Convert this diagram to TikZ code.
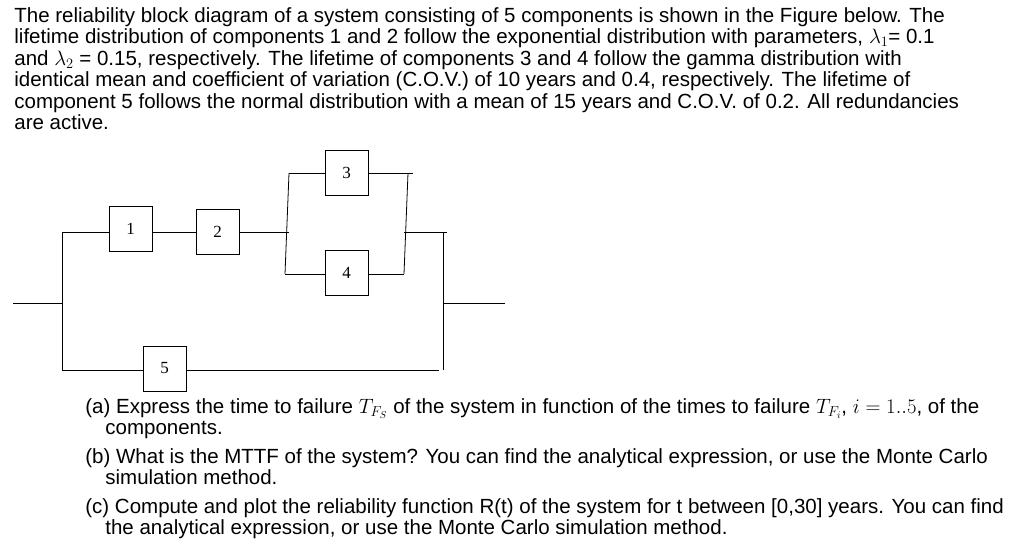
\documentclass[tikz,border=0pt]{standalone}
\usepackage{fontspec}
\setmainfont{Liberation Sans}
\newfontfamily\serifnum{Liberation Serif}
\begin{document}
\begin{tikzpicture}[x=1pt,y=-1pt,line width=0.8pt,
  tl/.style={anchor=base west,inner sep=0pt,font=\fontsize{20.5}{24}\selectfont},
  blk/.style={draw,minimum width=43pt,minimum height=45pt,inner sep=0pt,font=\serifnum\fontsize{17}{19}\selectfont}]
\useasboundingbox (0,0) rectangle (1032,558);
\node[tl] (l1) at (14,22) {The reliability block diagram of a system consisting of 5 components is shown in the Figure below. The};
\node[tl] (l2) at (14,43.5) {lifetime distribution of components 1 and 2 follow the exponential distribution with parameters, $\lambda_1$= 0.1};
\node[tl] (l3) at (14,65) {and $\lambda_2$ = 0.15, respectively. The lifetime of components 3 and 4 follow the gamma distribution with};
\node[tl] (l4) at (14,86.5) {identical mean and coefficient of variation (C.O.V.) of 10 years and 0.4, respectively. The lifetime of};
\node[tl] (l5) at (14,108) {component 5 follows the normal distribution with a mean of 15 years and C.O.V. of 0.2. All redundancies};
\node[tl] (l6) at (14,129.5) {are active.};
\node[blk] (b1) at (130.5,228.5) {1};
\node[blk] (b2) at (217.5,231.5) {2};
\node[blk] (b3) at (346.5,172.5) {3};
\node[blk] (b4) at (346.5,272.5) {4};
\node[blk] (b5) at (164.5,368.5) {5};
\coordinate (inA) at (13,303); \coordinate (inB) at (62,303);
\coordinate (lt) at (62,232); \coordinate (lb) at (62,370);
\coordinate (pl1) at (289,232); \coordinate (plt) at (289,173); \coordinate (plb) at (285,274);
\coordinate (prt) at (413,173); \coordinate (prt2) at (408,173); \coordinate (prb) at (404,274);
\coordinate (pm) at (404,232); \coordinate (rt) at (447,232); \coordinate (rx) at (443,232);
\coordinate (rb) at (443,370); \coordinate (rb2) at (439,370);
\coordinate (outA) at (443,303); \coordinate (outB) at (505,303);
\draw (inA) -- (inB);
\draw (lt) -- (lb);
\draw (lt) -- (lt -| b1.west);
\draw (b1.east |- lt) -- (b2.west |- lt);
\draw (b2.east |- lt) -- (pl1);
\draw (plt) -- (plb);
\draw (plt) -- (plt -| b3.west);
\draw (plb) -- (plb -| b4.west);
\draw (b3.east |- prt) -- (prt);
\draw (prt2) -- (prb);
\draw (b4.east |- prb) -- (prb);
\draw (pm) -- (rt);
\draw (rx) -- (rb);
\draw (outA) -- (outB);
\draw (lb) -- (lb -| b5.west);
\draw (b5.east |- rb2) -- (rb2);
\node[tl] (a1) at (85,413) {(a) Express the time to failure $T_{F_S}$ of the system in function of the times to failure $T_{F_i}$, $i=1..5$, of the};
\node[tl] (a2) at (105,434.5) {components.};
\node[tl] (b1t) at (85,463) {(b) What is the MTTF of the system? You can find the analytical expression, or use the Monte Carlo};
\node[tl] (b2t) at (105,484.5) {simulation method.};
\node[tl] (c1) at (85,513) {(c) Compute and plot the reliability function R(t) of the system for t between [0,30] years. You can find};
\node[tl] (c2) at (105,534.5) {the analytical expression, or use the Monte Carlo simulation method.};
\end{tikzpicture}
\end{document}
